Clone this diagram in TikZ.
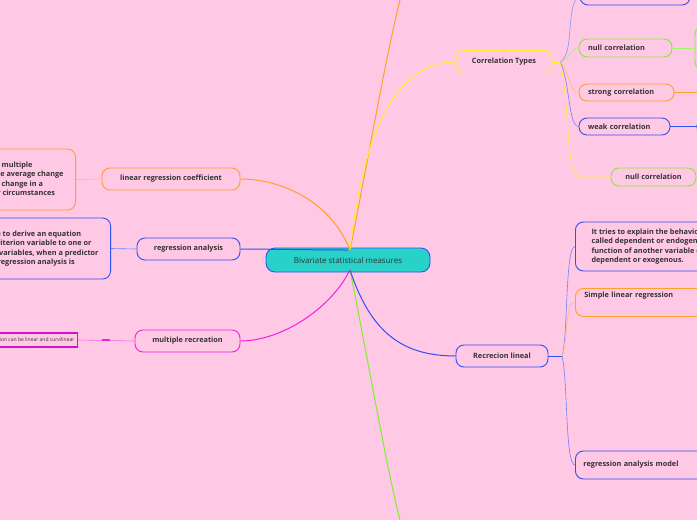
\documentclass[tikz,border=0pt]{standalone}
\usepackage{fontspec}
\setmainfont{Open Sans}
\begin{document}
\begin{tikzpicture}[x=1pt,y=-1pt,
 box/.style={draw=#1,line width=0.9pt,rounded corners=8pt,font=\bfseries\fontsize{7.3}{9.6}\selectfont,text=black!80,align=left,inner sep=0pt},
 ln/.style={draw=#1,line width=0.6pt}]
\definecolor{bg}{HTML}{FFC8E4}
\definecolor{ob}{HTML}{FFA028}\definecolor{bb}{HTML}{3050F0}\definecolor{gb}{HTML}{80EE30}
\definecolor{yb}{HTML}{FFF030}\definecolor{mb}{HTML}{EE20E0}
\fill[bg] (0,0) rectangle (697,520);
\useasboundingbox (0,0) rectangle (697,520);
\begin{scope}
\clip (0,0) rectangle (697,520);
\node[box=bb,fill={rgb,255:red,40;green,210;blue,200},minimum width=164,minimum height=24,align=center,font=\fontsize{8}{10}\selectfont,rounded corners=9pt] (c) at (348,260) {Bivariate statistical measures};
\node[box=yb,minimum width=96,minimum height=23,align=center] (ct) at (504,62) {Correlation Types};
\draw[ln=ob,line width=1pt] (350,250) .. controls (370,150) and (385,60) .. (400,0);
\draw[ln=gb,line width=1pt] (350,270) .. controls (370,370) and (385,460) .. (400,520);
\draw[ln=yb,line width=1pt] (350,250) .. controls (365,120) and (400,62) .. (ct.west);
\coordinate (j) at (560,62);
\draw[ln=yb] (ct.east) -- (j);
\node[box=bb,minimum width=110,minimum height=20] (tp) at (635,-5) {};
\node[box=gb,minimum width=93,minimum height=18,text width=75] (n1) at (625.5,48) {null correlation};
\node[box=ob,minimum width=95,minimum height=17,text width=77] (sc) at (626.5,92.5) {strong correlation};
\node[box=bb,minimum width=91,minimum height=17,text width=73] (wc) at (624.5,126.5) {weak correlation};
\node[box=gb,minimum width=85,minimum height=18,align=center] (n2) at (653.5,177) {null correlation};
\draw[ln=bb!60] (j) .. controls (575,55) and (565,5) .. (tp.west);
\draw[ln=gb!70] (j) .. controls (570,60) and (570,48) .. (n1.west);
\draw[ln=ob!70] (j) .. controls (570,70) and (568,92) .. (sc.west);
\draw[ln=bb!70] (j) .. controls (570,80) and (568,126) .. (wc.west);
\draw[ln=yb] (j) .. controls (570,100) and (565,177) .. (580,177) -- (n2.west);
\node[box=gb,minimum width=30,minimum height=43] (gp) at (710,48) {};
\draw[ln=gb!70] (n1.east) -- (gp.west);
\draw[ln=ob] (sc.east) -- (697,92.5);
\node[box=bb,minimum width=30,minimum height=17] (bp) at (712,126.5) {};
\draw[ln=bb] (wc.east) -- (bp.west);
\node[box=bb,minimum width=92,minimum height=22,align=center] (rl) at (502,356) {Recrecion lineal};
\draw[ln=bb,line width=1pt] (350,270) .. controls (370,330) and (400,356) .. (rl.west);
\coordinate (k) at (562,356);
\draw[ln=bb] (rl.east) -- (k);
\node[box=bb,minimum width=190,minimum height=49,inner xsep=15pt,anchor=west] (it) at (575,246.5) {It tries to explain the behavior of a variable\\called dependent or endogenous as a\\function of another variable called in-\\dependent or exogenous.};
\node[box=ob,minimum width=150,minimum height=28,text width=134,anchor=north west,text depth=16pt] (sl) at (575,288) {\hspace*{1pt}Simple linear regression};
\node[box=bb,minimum width=150,minimum height=28,text width=134,anchor=west] (ra) at (575,465) {regression analysis model};
\draw[ln=bb!70] (k) .. controls (568,340) and (565,246) .. (it.west);
\draw[ln=ob!70] (k) .. controls (568,340) and (565,302) .. (575,302);
\draw[ln=bb!70] (k) .. controls (568,380) and (565,465) .. (ra.west);
\end{scope}
\node[box=ob,minimum width=138,minimum height=22,align=center] (lr) at (171,179) {linear regression coefficient};
\node[box=bb,minimum width=103,minimum height=22,align=center] (ran) at (188.5,249) {regression analysis};
\node[box=mb,minimum width=105,minimum height=22,align=center] (mr) at (187.5,341) {multiple recreation};
\draw[ln=ob,line width=1pt] (350,250) .. controls (330,200) and (280,179) .. (lr.east);
\draw[ln=bb,line width=1pt] (348,250) .. controls (320,250) and (260,249) .. (ran.east);
\draw[ln=mb,line width=1pt] (350,270) .. controls (330,310) and (280,341) .. (mr.east);
\begin{scope}
\clip (0,0) rectangle (697,520);
\node[box=ob,anchor=east,minimum height=61,inner xsep=12pt] (lo) at (76,179.5) {In a simple or multiple\\regression, the average change\\in Y for a unit change in a\\given X under circumstances};
\node[box=bb,anchor=east,minimum height=61,inner xsep=12pt] (lb) at (111,248.5) {It is a technique to derive an equation\\that relates a criterion variable to one or\\more predictor variables, when a predictor\\is used, simple regression analysis is};
\node[draw={rgb,255:red,210;green,20;blue,200},line width=1.2pt,anchor=east,minimum height=14,inner xsep=3pt,inner ysep=1pt,font=\fontsize{5}{6}\selectfont,text=black!80] (sb) at (78,340) {multiple regression can be linear and curvilinear};
\end{scope}
\draw[ln=ob!70] (lr.west) -- (lo.east);
\draw[ln=bb!70] (ran.west) -- (lb.east);
\draw[ln=mb!70] (mr.west) -- (sb.east);
\draw[mb,line width=1.5pt] (102,340) -- (110,340);
\end{tikzpicture}
\end{document}
